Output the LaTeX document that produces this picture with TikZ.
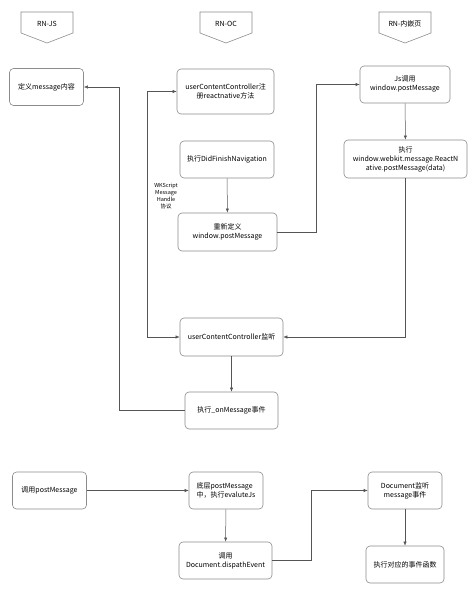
\documentclass[tikz,border=0pt]{standalone}
\usepackage{fontspec}
\setmainfont{Noto Sans CJK SC}
\usepackage{xcolor}
\usetikzlibrary{arrows.meta,positioning,calc}
\definecolor{frame}{HTML}{8C8C8C}
\definecolor{wire}{HTML}{555555}

\begin{document}
\begin{tikzpicture}[x=1pt,y=-1pt,
  box/.style={draw=frame,rounded corners=4pt,fill=white,
              minimum height=37pt,minimum width=74pt,align=center,
              font=\fontsize{7}{9}\selectfont,inner sep=2pt,line width=0.6pt},
  head/.style={draw=frame,line width=0.6pt},
  note/.style={font=\fontsize{5.5}{6.8}\selectfont,align=center},
  arr/.style={-{Latex[length=4pt,width=3.2pt]},draw=wire,line width=0.5pt},
  biarr/.style={{Latex[length=4pt,width=3.2pt]}-{Latex[length=4pt,width=3.2pt]},draw=wire,line width=0.5pt}]

  \useasboundingbox (0,0) rectangle (474,604);

  % lane headers
  \foreach \cx/\txt/\nm in {47/RN-JS/hjs,226/RN-OC/hoc,405/RN-内嵌页/hweb}{
    \draw[head] (\cx-26,12) -- (\cx+26,12) -- (\cx+26,33) -- (\cx,43) -- (\cx-26,33) -- cycle;
    \node[font=\fontsize{7}{9}\selectfont] (\nm) at (\cx,24) {\txt};
  }

  % upper flow
  \node[box] (def)    at (46.5,87)  {定义message内容};
  \node[box,minimum width=97pt,minimum height=45pt] (reg) at (225.5,91.5)
       {userContentController注\\册reactnative方法};
  \node[box,minimum width=94pt] (didf)   at (227,159.5) {执行DidFinishNavigation};
  \node[box,minimum width=99pt,minimum height=38pt] (redef) at (227.5,232)
       {重新定义\\window.postMessage};
  \node[box,minimum width=90pt] (jscall) at (405,84.5)  {Js调用\\window.postMessage};
  \node[box,minimum width=123pt,minimum height=38pt] (exec) at (405.5,159)
       {执行\\window.webkit.message.ReactN\\ative.postMessage(data)};
  \node[box,minimum width=103pt,minimum height=38pt] (listen) at (231.5,337)
       {userContentController监听};
  \node[box,minimum width=93pt] (onmsg)  at (231.5,410.5) {执行\_onMessage事件};
  \node[note] (wk) at (166,196) {WKScript\\Message\\Handle\\协议};

  \draw[arr] (didf) -- (redef);
  \draw[arr] (redef.east) -- ++(39,0) |- (jscall.west);
  \draw[arr] (jscall) -- (exec);
  \draw[arr] (exec.south) |- (listen.east);
  \draw[biarr] (reg.west) -- ++(-29,0) |- (listen.west);
  \draw[arr] (listen) -- (onmsg);
  \draw[arr] (onmsg.west) -- ++(-65,0) |- (def.east);

  % lower flow
  \node[box] (call)    at (49.5,490.5) {调用postMessage};
  \node[box,align=left] (under) at (226,490.5) {底层postMessage\\中，执行evaluteJs};
  \node[box,minimum width=93pt] (disp) at (225.5,560.5) {调用\\Document.dispathEvent};
  \node[box] (dlisten) at (405,490.5) {Document监听\\message事件};
  \node[box,minimum width=78pt] (doexec) at (405,564.5) {执行对应的事件函数};

  \draw[arr] (call) -- (under);
  \draw[arr] (under) -- (disp);
  \draw[arr] (disp.east) -- ++(39,0) |- (dlisten.west);
  \draw[arr] (dlisten) -- (doexec);
\end{tikzpicture}
\end{document}
